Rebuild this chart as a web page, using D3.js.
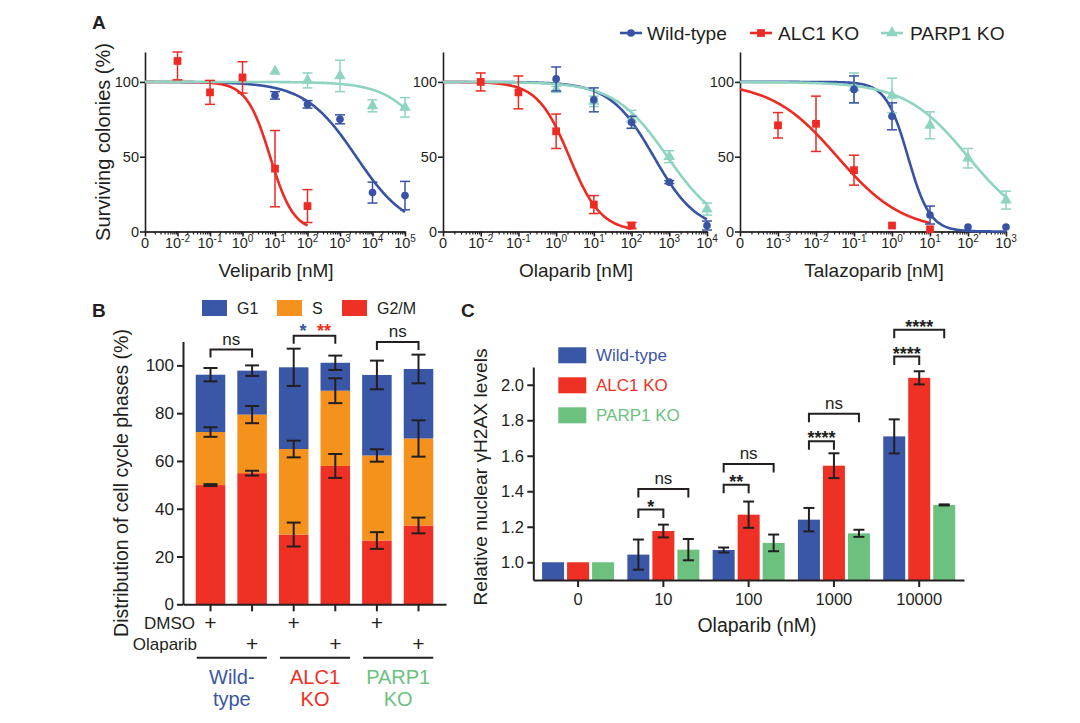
<!DOCTYPE html>
<html>
<head>
<meta charset="utf-8">
<script src="https://cdn.jsdelivr.net/npm/d3@7"></script>
<style>
body { margin: 0; background: #fff; }
text { font-family: "Liberation Sans", Arial, sans-serif; fill: #231f20; }
</style>
</head>
<body>
<svg id="fig" width="1080" height="723"></svg>
<script>
// ---- panel A: clonogenic survival (log10 dose, mean %, error) ----
var strains = ["Wild-type", "ALC1 KO", "PARP1 KO"];
var drugs = ["Veliparib", "Olaparib", "Talazoparib"];
var drugZeroExp = [-3, -3, -4];   // exponent where the "0" tick sits
var drugTopExp = [5, 4, 3];

var veliDose = [[1, 2, 3, 4, 5], [-2, -1, 0, 1, 2], [1, 2, 3, 4, 5]];
var veliMean = [[91, 85, 75, 26, 24], [114, 93, 103, 42, 17], [107, 101, 104, 84, 83]];
var veliErr  = [[2.5, 2.5, 3, 7, 9.5], [12.6, 8, 10.5, 25.5, 11], [0, 5, 10.5, 4, 6.5]];

var olapDose = [[0, 1, 2, 3, 4], [-2, -1, 0, 1, 2], [0, 1, 2, 3, 4]];
var olapMean = [[102, 88, 73, 33, 4], [100, 93, 67, 18, 4], [95, 87, 75, 50, 15]];
var olapErr  = [[8, 8, 4, 1, 3], [6, 11, 11.5, 6, 2], [2, 3.5, 6, 4, 4]];

var talaDose = [[-1, 0, 1, 2, 3], [-3, -2, -1, 0, 1], [-1, 0, 1, 2, 3]];
var talaMean = [[95, 77, 11, 3, 3], [71, 72, 41, 4, 1.5], [96, 91, 71, 49, 21]];
var talaErr  = [[9, 9, 6, 0, 0], [8.5, 18.5, 10, 0, 0], [10, 11.5, 9, 6.5, 6]];

// fitted dose-response: [log10 IC50, Hill slope, last log10 dose of curve]
var veliFit = [[3.5, 0.55, 5], [0.85, 1.2, 2], [6.1, 0.6, 5]];
var olapFit = [[2.59, 0.75, 4], [0.35, 1.03, 2], [2.95, 0.62, 4]];
var talaFit = [[0.42, 1.5, 3], [-1.44, 0.5, 1], [2.0, 0.525, 3]];

// ---- panel B: cell cycle distribution ----
var phases = ["G1", "S", "G2/M"];
var conditions = ["WT DMSO", "WT Olaparib", "ALC1 DMSO", "ALC1 Olaparib", "PARP1 DMSO", "PARP1 Olaparib"];
var g2mPct = [49.9, 54.9, 29.2, 57.9, 26.7, 33.0];
var sPct   = [22.2, 24.5, 35.8, 31.5, 35.6, 36.4];
var g1Pct  = [24.0, 18.4, 34.2, 11.7, 33.7, 29.1];
var g2mErr = [0.4, 1.0, 5.0, 5.0, 3.5, 3.3];
var sErr   = [2.0, 3.6, 3.5, 5.2, 2.6, 7.6];
var g1Err  = [2.8, 2.2, 7.8, 3.0, 6.0, 6.0];
var cellGroups = [["Wild-", "type"], ["ALC1", "KO"], ["PARP1", "KO"]];

// ---- panel C: gamma-H2AX ----
var olapDoses = ["0", "10", "100", "1000", "10000"];
var wtH2ax   = [1.0, 1.043, 1.069, 1.240, 1.709];
var alcH2ax  = [1.0, 1.176, 1.268, 1.544, 2.039];
var parpH2ax = [1.0, 1.071, 1.109, 1.163, 1.323];
var wtH2axErr   = [0, 0.085, 0.014, 0.066, 0.096];
var alcH2axErr  = [0, 0.036, 0.074, 0.070, 0.037];
var parpH2axErr = [0, 0.060, 0.047, 0.020, 0.003];
// [dose, from series, to series, bracket level, label]
var h2axSig = [
  ["10", 0, 1, 1.297, "*"], ["10", 0, 2, 1.413, "ns"],
  ["100", 0, 1, 1.436, "**"], ["100", 0, 2, 1.554, "ns"],
  ["1000", 0, 1, 1.681, "****"], ["1000", 0, 2, 1.837, "ns"],
  ["10000", 0, 1, 2.159, "****"], ["10000", 0, 2, 2.31, "****"]
];

var svg = d3.select("#fig");
svg.append("rect").attr("width", 1080).attr("height", 723).attr("fill", "#fff");

var ink = "#231f20";
var lineCols = ["#3953a4", "#ed2a24", "#8ed4c1"];
var barCols = ["#3a56a6", "#ee3124", "#6cc17f"];
var phaseCols = {"G1": "#3a56a6", "S": "#f5921e", "G2/M": "#ee3124"};

function styleAxis(sel, w) {
  sel.selectAll("path, line").attr("stroke", ink).attr("stroke-width", w);
  sel.selectAll("text").remove();
}

function panelLetter(t, x, y) {
  svg.append("text").attr("x", x).attr("y", y).attr("font-size", 19).attr("font-weight", "bold").text(t);
}

// ================= Panel A =================
panelLetter("A", 92, 29);
var yA = d3.scaleLinear().domain([0, 120]).range([231.5, 52]);
var panelsA = [
  {x0: 145, x1: 405, dose: veliDose, mean: veliMean, err: veliErr, fit: veliFit},
  {x0: 443, x1: 707, dose: olapDose, mean: olapMean, err: olapErr, fit: olapFit},
  {x0: 740, x1: 1006, dose: talaDose, mean: talaMean, err: talaErr, fit: talaFit}
];
var symbols = [d3.symbolCircle, d3.symbolSquare, d3.symbolTriangle];
var symSize = [46, 60, 58];

panelsA.forEach(function(p, di) {
  var lo = drugZeroExp[di], hi = drugTopExp[di];
  var x = d3.scaleLog().domain([Math.pow(10, lo), Math.pow(10, hi)]).range([p.x0, p.x1]);
  var g = svg.append("g");
  var majors = d3.range(lo, hi + 1).map(function(k) { return Math.pow(10, k); });
  var minors = [];
  d3.range(lo, hi).forEach(function(k) {
    for (var m = 2; m < 10; m++) minors.push(m * Math.pow(10, k));
  });

  g.append("g").attr("transform", "translate(0," + yA(0) + ")")
    .call(d3.axisBottom(x).tickValues(minors).tickSize(3).tickSizeOuter(0).tickFormat(""))
    .call(styleAxis, 1.2);
  g.append("g").attr("transform", "translate(0," + yA(0) + ")")
    .call(d3.axisBottom(x).tickValues(majors).tickSize(5).tickSizeOuter(0).tickFormat(""))
    .call(styleAxis, 1.6);
  g.append("g").attr("transform", "translate(" + p.x0 + ",0)")
    .call(d3.axisLeft(yA).tickValues([0, 50, 100]).tickSize(5).tickSizeOuter(0))
    .call(styleAxis, 1.6);

  [0, 50, 100].forEach(function(v) {
    g.append("text").attr("x", p.x0 - 6).attr("y", yA(v) + 5.5).attr("text-anchor", "end")
      .attr("font-size", 14.5).text(v);
  });
  majors.forEach(function(v, i) {
    var t = g.append("text").attr("x", x(v)).attr("y", 248).attr("text-anchor", "middle").attr("font-size", 14.5);
    if (i === 0) { t.text("0"); return; }
    t.append("tspan").text("10");
    t.append("tspan").attr("dy", -6).attr("font-size", 10).text(String(lo + i));
  });
  g.append("text").attr("x", (p.x0 + p.x1) / 2 + 1).attr("y", 277).attr("text-anchor", "middle")
    .attr("font-size", 19).text(drugs[di] + " [nM]");

  // fitted curves
  p.fit.forEach(function(f, si) {
    var pts = d3.range(lo, f[2] + 0.0001, 0.02).map(function(e) {
      return [Math.pow(10, e), 100 / (1 + Math.pow(10, (e - f[0]) * f[1]))];
    });
    g.append("path").datum(pts)
      .attr("d", d3.line().x(function(d) { return x(d[0]); }).y(function(d) { return yA(d[1]); }))
      .attr("fill", "none").attr("stroke", lineCols[si]).attr("stroke-width", 2.6);
  });

  // error bars and markers
  [2, 0, 1].forEach(function(si) {
    var col = lineCols[si];
    p.dose[si].forEach(function(e, j) {
      var cx = x(Math.pow(10, e)), m = p.mean[si][j], er = p.err[si][j];
      if (er > 0) {
        var top = yA(Math.min(120, m + er)), bot = yA(Math.max(0, m - er));
        g.append("line").attr("x1", cx).attr("x2", cx).attr("y1", top).attr("y2", bot)
          .attr("stroke", col).attr("stroke-width", 1.5);
        [top, bot].forEach(function(yy) {
          g.append("line").attr("x1", cx - 5).attr("x2", cx + 5).attr("y1", yy).attr("y2", yy)
            .attr("stroke", col).attr("stroke-width", 1.5);
        });
      }
      g.append("path").attr("d", d3.symbol().type(symbols[si]).size(symSize[si])())
        .attr("transform", "translate(" + cx + "," + yA(m) + ")").attr("fill", col);
    });
  });
});

// legend A
var legA = [[620, 647], [750, 778], [881, 910]];
strains.forEach(function(s, i) {
  var g = svg.append("g");
  g.append("line").attr("x1", legA[i][0]).attr("x2", legA[i][0] + 22).attr("y1", 33).attr("y2", 33)
    .attr("stroke", lineCols[i]).attr("stroke-width", 2.6);
  g.append("path").attr("d", d3.symbol().type(symbols[i]).size(symSize[i])())
    .attr("transform", "translate(" + (legA[i][0] + 11) + ",33)").attr("fill", lineCols[i]);
  g.append("text").attr("x", legA[i][1]).attr("y", 39.5).attr("font-size", 19.2).text(s);
});
svg.append("text").attr("transform", "translate(110,142) rotate(-90)").attr("text-anchor", "middle")
  .attr("font-size", 20).text("Surviving colonies (%)");

// ================= Panel B =================
panelLetter("B", 92, 317);
var xB = d3.scaleBand().domain(d3.range(conditions.length)).range([183, 446])
  .paddingInner(0.29).paddingOuter(0.306);
var yB = d3.scaleLinear().domain([0, 110]).range([604.3, 341.5]);
var rowsB = conditions.map(function(c, i) { return {"G2/M": g2mPct[i], "S": sPct[i], "G1": g1Pct[i]}; });
var errB = {"G2/M": g2mErr, "S": sErr, "G1": g1Err};
var stackB = d3.stack().keys(["G2/M", "S", "G1"])(rowsB);

var gB = svg.append("g");
stackB.forEach(function(layer) {
  gB.selectAll(null).data(layer).enter().append("rect")
    .attr("x", function(d, i) { return xB(i); })
    .attr("width", xB.bandwidth())
    .attr("y", function(d) { return yB(d[1]); })
    .attr("height", function(d) { return yB(d[0]) - yB(d[1]); })
    .attr("fill", phaseCols[layer.key]);
});
stackB.forEach(function(layer) {
  layer.forEach(function(d, i) {
    var cx = xB(i) + xB.bandwidth() / 2, e = errB[layer.key][i];
    var t = yB(d[1] + e), b = yB(d[1] - e);
    gB.append("line").attr("x1", cx).attr("x2", cx).attr("y1", t).attr("y2", b).attr("stroke", ink).attr("stroke-width", 2);
    [t, b].forEach(function(yy) {
      gB.append("line").attr("x1", cx - 7).attr("x2", cx + 7).attr("y1", yy).attr("y2", yy).attr("stroke", ink).attr("stroke-width", 2);
    });
  });
});
gB.append("g").attr("transform", "translate(183,0)")
  .call(d3.axisLeft(yB).tickValues([0, 20, 40, 60, 80, 100]).tickSize(6).tickSizeOuter(0))
  .call(styleAxis, 2);
[0, 20, 40, 60, 80, 100].forEach(function(v) {
  gB.append("text").attr("x", 174).attr("y", yB(v) + 6).attr("text-anchor", "end").attr("font-size", 17).text(v);
});
gB.append("g").attr("transform", "translate(0," + yB(0) + ")")
  .call(d3.axisBottom(xB).tickSize(7).tickSizeOuter(0))
  .call(styleAxis, 2);

// DMSO / Olaparib rows
gB.append("text").attr("x", 195).attr("y", 629).attr("text-anchor", "end").attr("font-size", 17).text("DMSO");
gB.append("text").attr("x", 197).attr("y", 649.5).attr("text-anchor", "end").attr("font-size", 17).text("Olaparib");
conditions.forEach(function(c, i) {
  var cx = xB(i) + xB.bandwidth() / 2;
  gB.append("text").attr("x", cx).attr("y", i % 2 === 0 ? 630 : 650.5).attr("text-anchor", "middle")
    .attr("font-size", 21).text("+");
});
cellGroups.forEach(function(lab, k) {
  var a = xB(2 * k) + 1, b = xB(2 * k + 1) + xB.bandwidth();
  gB.append("line").attr("x1", a).attr("x2", b).attr("y1", 657.7).attr("y2", 657.7).attr("stroke", ink).attr("stroke-width", 2);
  lab.forEach(function(t, j) {
    gB.append("text").attr("x", (a + b) / 2).attr("y", 684 + j * 21.5).attr("text-anchor", "middle")
      .attr("font-size", 20).style("fill", barCols[k]).text(t);
  });
});

// brackets B: [left bar, right bar, level]
var bracketsB = [[0, 1, 106.7], [2, 3, 112.4], [4, 5, 109.8]];
bracketsB.forEach(function(br) {
  var a = xB(br[0]) + xB.bandwidth() / 2, b = xB(br[1]) + xB.bandwidth() / 2, yy = yB(br[2]);
  gB.append("path").attr("d", "M" + a + "," + (yy + 8) + "V" + yy + "H" + b + "V" + (yy + 8))
    .attr("fill", "none").attr("stroke", ink).attr("stroke-width", 2);
});
gB.append("text").attr("x", xB(0) + xB.step() / 2 + xB.bandwidth() / 2).attr("y", yB(106.7) - 4.5)
  .attr("text-anchor", "middle").attr("font-size", 17).text("ns");
gB.append("text").attr("x", xB(4) + xB.step() / 2 + xB.bandwidth() / 2).attr("y", yB(109.8) - 4.5)
  .attr("text-anchor", "middle").attr("font-size", 17).text("ns");
gB.append("text").attr("x", 303).attr("y", 337).attr("text-anchor", "middle").attr("font-size", 18)
  .attr("font-weight", "bold").style("fill", "#3a56a6").text("*");
gB.append("text").attr("x", 324).attr("y", 337).attr("text-anchor", "middle").attr("font-size", 18)
  .attr("font-weight", "bold").style("fill", "#ee3124").text("**");

// legend B
phases.forEach(function(ph, i) {
  var lx = [202, 277, 342][i];
  svg.append("rect").attr("x", lx).attr("y", 300).attr("width", 25).attr("height", 16).attr("fill", phaseCols[ph]);
  svg.append("text").attr("x", lx + 35).attr("y", 314).attr("font-size", 16).text(ph);
});
svg.append("text").attr("transform", "translate(128,483) rotate(-90)").attr("text-anchor", "middle")
  .attr("font-size", 19.5).text("Distribution of cell cycle phases (%)");

// ================= Panel C =================
panelLetter("C", 461, 317);
var seriesC = [wtH2ax, alcH2ax, parpH2ax];
var errC = [wtH2axErr, alcH2axErr, parpH2axErr];
var x0C = d3.scaleBand().domain(olapDoses).range([533.3, 964]).paddingInner(0.156).paddingOuter(0.103);
var x1C = d3.scaleBand().domain(d3.range(3)).range([0, x0C.bandwidth()]).paddingInner(0.12);
var yC = d3.scaleLinear().domain([0.9, 2.1]).range([580, 367]);

var gC = svg.append("g");
seriesC.forEach(function(vals, si) {
  gC.selectAll(null).data(vals).enter().append("rect")
    .attr("x", function(d, i) { return x0C(olapDoses[i]) + x1C(si); })
    .attr("width", x1C.bandwidth())
    .attr("y", function(d) { return yC(d); })
    .attr("height", function(d) { return yC(0.9) - yC(d); })
    .attr("fill", barCols[si]);
});
seriesC.forEach(function(vals, si) {
  vals.forEach(function(v, i) {
    var e = errC[si][i];
    if (e <= 0) return;
    var cx = x0C(olapDoses[i]) + x1C(si) + x1C.bandwidth() / 2;
    var t = yC(v + e), b = yC(v - e);
    gC.append("line").attr("x1", cx).attr("x2", cx).attr("y1", t).attr("y2", b).attr("stroke", ink).attr("stroke-width", 2);
    [t, b].forEach(function(yy) {
      gC.append("line").attr("x1", cx - 5.5).attr("x2", cx + 5.5).attr("y1", yy).attr("y2", yy).attr("stroke", ink).attr("stroke-width", 2);
    });
  });
});
gC.append("g").attr("transform", "translate(533.3,0)")
  .call(d3.axisLeft(yC).tickValues([1.0, 1.2, 1.4, 1.6, 1.8, 2.0]).tickSize(6).tickSizeOuter(0))
  .call(styleAxis, 2);
[1.0, 1.2, 1.4, 1.6, 1.8, 2.0].forEach(function(v) {
  gC.append("text").attr("x", 524).attr("y", yC(v) + 6).attr("text-anchor", "end").attr("font-size", 16.5).text(v.toFixed(1));
});
gC.append("g").attr("transform", "translate(0," + yC(0.9) + ")")
  .call(d3.axisBottom(x0C).tickSize(7).tickSizeOuter(0))
  .call(styleAxis, 2);
olapDoses.forEach(function(d) {
  gC.append("text").attr("x", x0C(d) + x0C.bandwidth() / 2).attr("y", 604.5).attr("text-anchor", "middle")
    .attr("font-size", 16.5).text(d);
});
gC.append("text").attr("x", 757).attr("y", 632).attr("text-anchor", "middle").attr("font-size", 19.5).text("Olaparib (nM)");
svg.append("text").attr("transform", "translate(487,477) rotate(-90)").attr("text-anchor", "middle")
  .attr("font-size", 19.2).text("Relative nuclear \u03b3H2AX levels");

h2axSig.forEach(function(s) {
  var a = x0C(s[0]) + x1C(s[1]) + x1C.bandwidth() / 2;
  var b = x0C(s[0]) + x1C(s[2]) + x1C.bandwidth() / 2;
  var yy = yC(s[3]);
  gC.append("path").attr("d", "M" + a + "," + (yy + 8.5) + "V" + yy + "H" + b + "V" + (yy + 8.5))
    .attr("fill", "none").attr("stroke", ink).attr("stroke-width", 2);
  var isStar = s[4] !== "ns";
  gC.append("text").attr("x", (a + b) / 2).attr("y", isStar ? yy + 3 : yy - 4.5).attr("text-anchor", "middle")
    .attr("font-size", isStar ? 18 : 17).attr("font-weight", isStar ? "bold" : "normal").text(s[4]);
});

// legend C
strains.forEach(function(s, i) {
  svg.append("rect").attr("x", 558.3).attr("y", 347.3 + i * 30).attr("width", 28).attr("height", 16).attr("fill", barCols[i]);
  svg.append("text").attr("x", 596).attr("y", 361 + i * 30).attr("font-size", 17)
    .style("fill", barCols[i]).text(s);
});
</script>
</body>
</html>
